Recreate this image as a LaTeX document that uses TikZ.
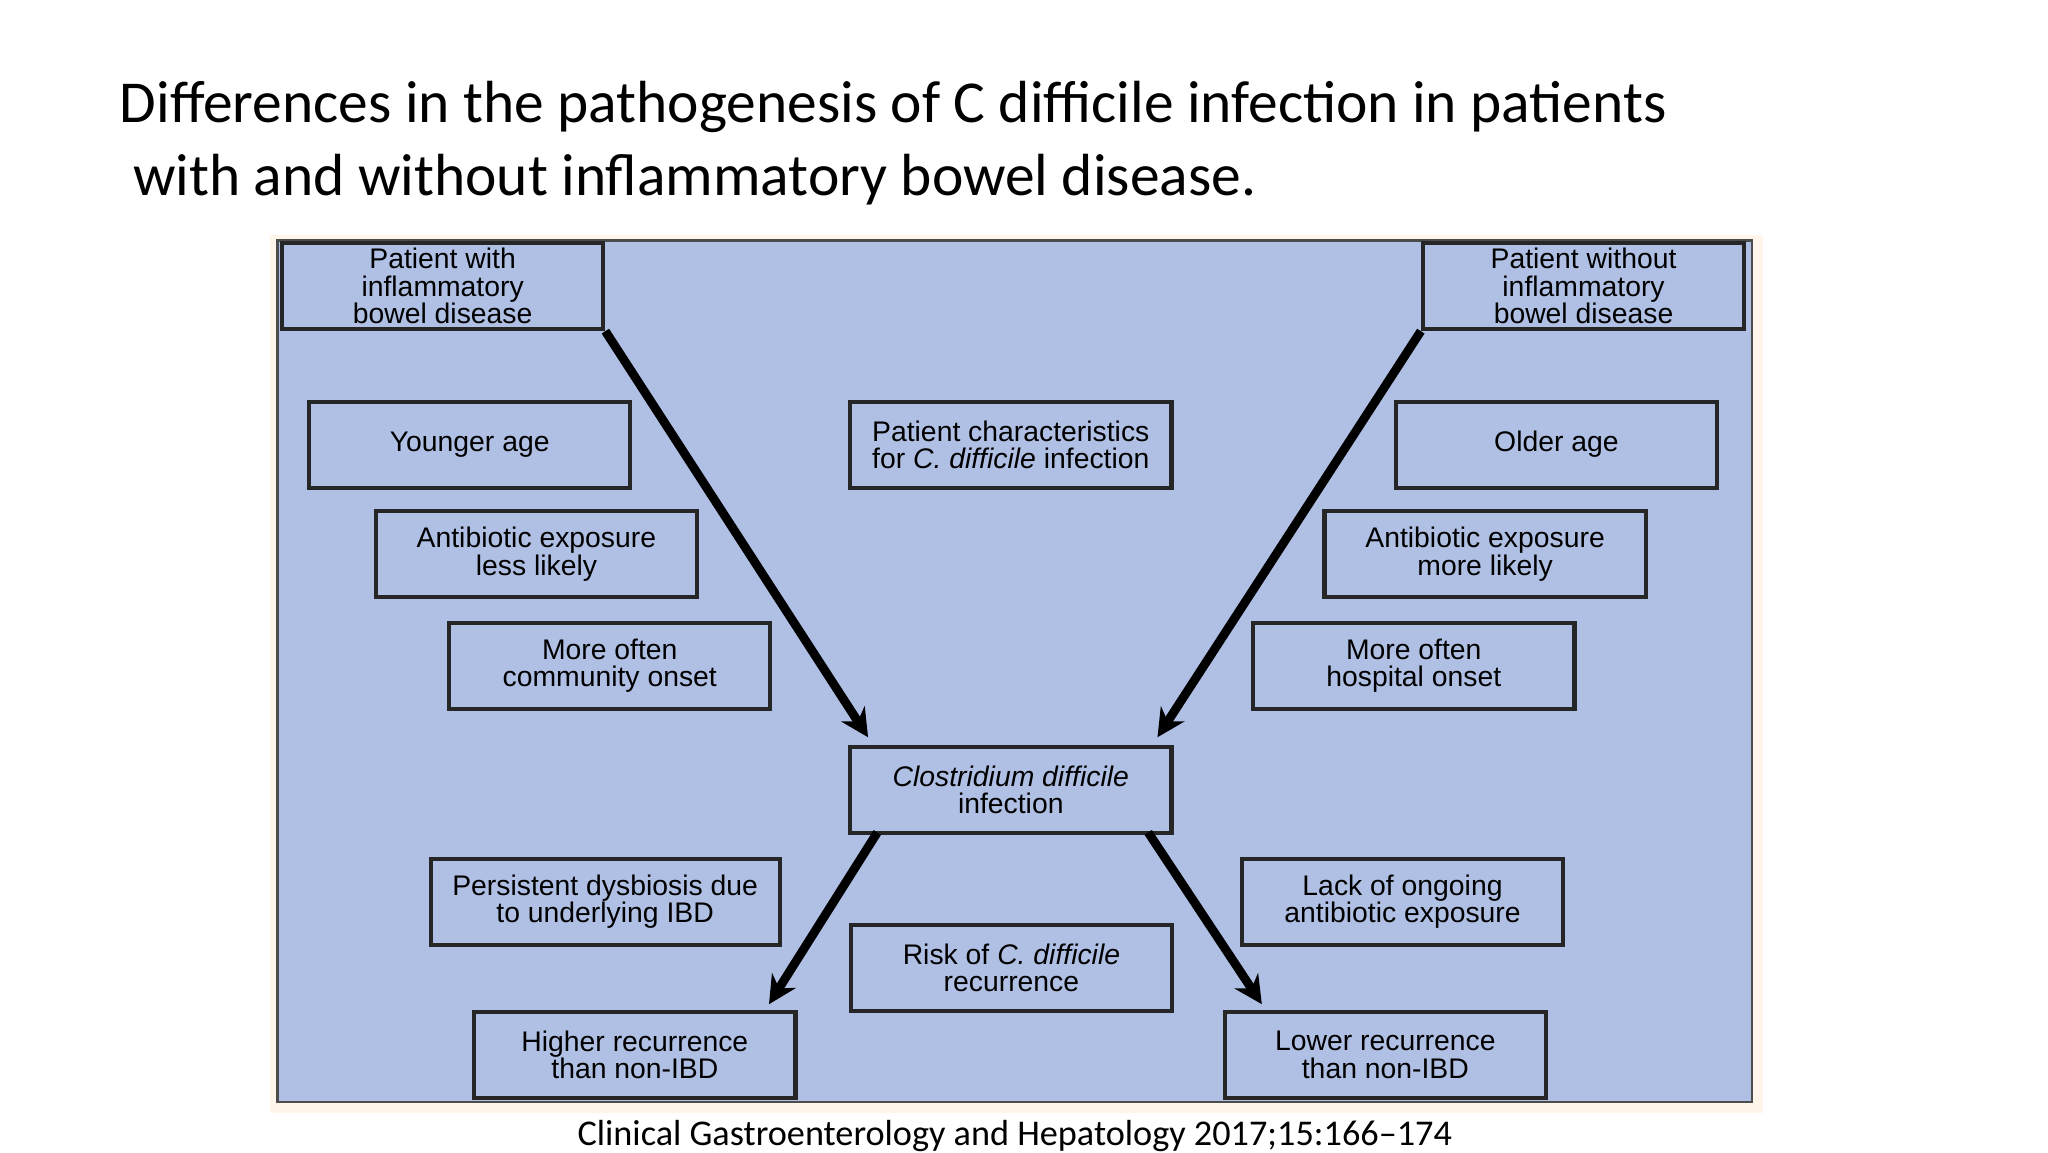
\documentclass[tikz,border=0pt]{standalone}
\usepackage{fontspec}
\setmainfont{Carlito}
\newfontfamily\boxfont{Liberation Sans}
\usetikzlibrary{arrows.meta}
\definecolor{panel}{HTML}{B0C0E4}
\tikzset{
 bx/.style={draw=black!85,line width=0.9pt,fill=panel,minimum width=2.43cm,minimum height=0.65cm,align=center,inner sep=0pt,font=\boxfont\fontsize{6.1pt}{5.9pt}\selectfont},
 arr/.style={line width=1.9pt,-{Stealth[length=6pt,width=6pt]}}
}
\begin{document}
\begin{tikzpicture}[x=0.01cm,y=-0.01cm]
\useasboundingbox (0,0) rectangle (1550,872);
\fill[orange!8] (204,178) rectangle (1334,842);
\draw[black!70,fill=panel,line width=0.6pt] (210,182) rectangle (1326,834);
\node[anchor=base west,inner sep=0pt,font=\fontsize{12.8pt}{14pt}\selectfont] (t1) at (90,93) {Differences in the pathogenesis of C difficile infection in patients};
\node[anchor=base west,inner sep=0pt,font=\fontsize{12.8pt}{14pt}\selectfont] (t2) at (100,148) {with and without inflammatory bowel disease.};
\node[bx] (b1) at (335,216.5) {Patient with\\inflammatory\\bowel disease};
\node[bx] (b2) at (1198.5,216.5) {Patient without\\inflammatory\\bowel disease};
\node[bx] (b3) at (355.5,336.5) {Younger age};
\node[bx] (b4) at (765,336.5) {Patient characteristics\\for \textit{C. difficile} infection};
\node[bx] (b5) at (1178,336.5) {Older age};
\node[bx] (b6) at (406,419.5) {Antibiotic exposure\\less likely};
\node[bx] (b7) at (1124,419.5) {Antibiotic exposure\\more likely};
\node[bx] (b8) at (461.5,504) {More often\\community onset};
\node[bx] (b9) at (1070,504) {More often\\hospital onset};
\node[bx] (b10) at (765,598) {\textit{Clostridium difficile}\\infection};
\node[bx,minimum width=2.64cm] (b11) at (458,682.5) {Persistent dysbiosis due\\to underlying IBD};
\node[bx] (b12) at (1061.5,682.5) {Lack of ongoing\\antibiotic exposure};
\node[bx] (b13) at (765.5,732.5) {Risk of \textit{C. difficile}\\recurrence};
\node[bx] (b14) at (480.5,798.5) {Higher recurrence\\than non-IBD};
\node[bx] (b15) at (1048.5,798.5) {Lower recurrence\\than non-IBD};
\coordinate (e1) at (657,558);
\coordinate (e2) at (876,558);
\coordinate (e3) at (582,760);
\coordinate (e4) at (955,760);
\coordinate (s3) at (664,630);
\coordinate (s4) at (869,630);
\draw[arr] (b1.south east) -- (e1);
\draw[arr] (b2.south west) -- (e2);
\draw[arr] (s3) -- (e3);
\draw[arr] (s4) -- (e4);
\node[font=\fontsize{7.8pt}{9pt}\selectfont] (cap) at (768,860) {Clinical Gastroenterology and Hepatology 2017;15:166–174};
\end{tikzpicture}
\end{document}
